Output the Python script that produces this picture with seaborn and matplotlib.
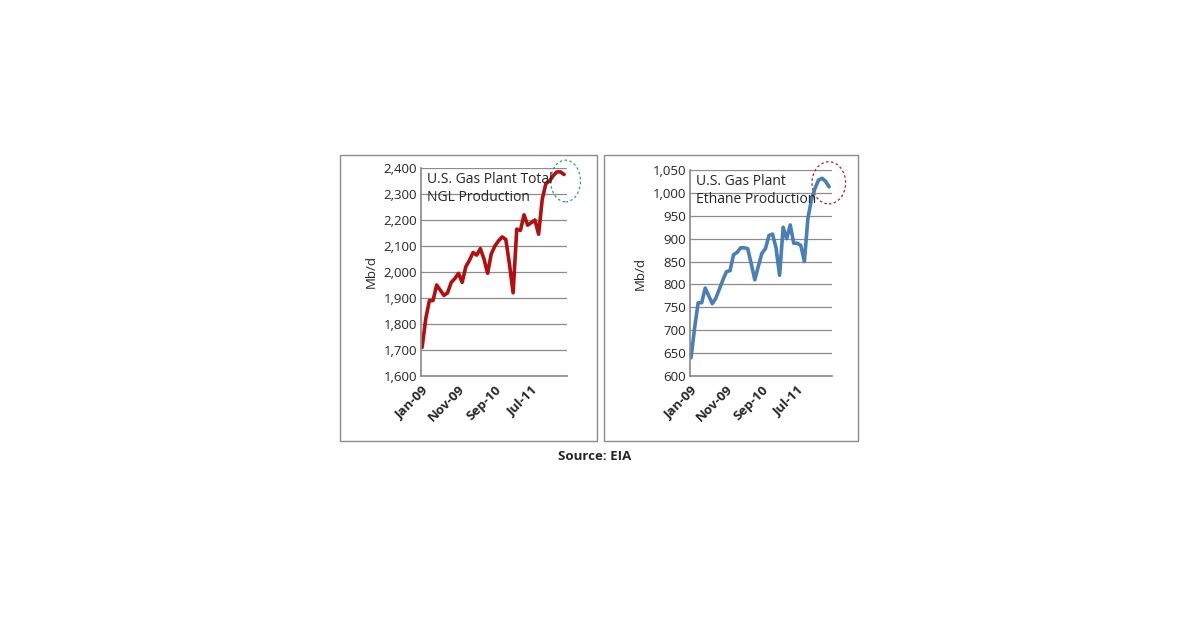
import matplotlib
matplotlib.use("Agg")
import matplotlib.pyplot as plt
import seaborn as sns
import pandas as pd
from matplotlib.patches import Rectangle, Ellipse

sns.set_theme(style="white")
plt.rcParams['font.family'] = ['Open Sans', 'DejaVu Sans']

months = pd.date_range("2009-01-01", periods=40, freq="MS")
ngl = [1710, 1820, 1890, 1890, 1950, 1930, 1910, 1920, 1960, 1975,
       1995, 1960, 2020, 2045, 2075, 2065, 2090, 2050, 1995, 2070,
       2100, 2120, 2135, 2125, 2030, 1920, 2165, 2160, 2220, 2180,
       2190, 2200, 2145, 2280, 2340, 2350, 2370, 2385, 2385, 2375]
ethane = [640, 705, 760, 760, 792, 775, 758, 770, 790, 810,
          828, 830, 865, 870, 880, 880, 878, 845, 810, 840,
          868, 878, 907, 910, 880, 820, 925, 900, 930, 890,
          890, 885, 850, 945, 985, 1010, 1028, 1032, 1025, 1013]
tick_idx = [0, 10, 20, 30]
tick_labels = ["Jan-09", "Nov-09", "Sep-10", "Jul-11"]

df = pd.DataFrame({"i": range(40), "ngl": ngl, "ethane": ethane})

fig = plt.figure(figsize=(12, 6.3), dpi=100)
W, H = 1200, 630
def fr(x0, y0, x1, y1):
    return [x0 / W, 1 - y1 / H, (x1 - x0) / W, (y1 - y0) / H]

for (x0, y0, x1, y1) in [(340, 155, 597, 441), (604, 155, 858, 441)]:
    fig.patches.append(Rectangle((x0 / W, 1 - y1 / H), (x1 - x0) / W, (y1 - y0) / H,
                                 transform=fig.transFigure, fill=False,
                                 edgecolor="#8c8c8c", linewidth=1))

def panel(rect, col, color, ylim, step, title, ell, ecolor):
    ax = fig.add_axes(fr(*rect))
    sns.lineplot(data=df, x="i", y=col, ax=ax, color=color, linewidth=2.6)
    ax.set_xlim(-0.3, 39.8)
    ax.set_ylim(*ylim)
    ax.set_yticks(range(ylim[0], ylim[1] + 1, step))
    ax.set_yticklabels([f"{v:,}" for v in range(ylim[0], ylim[1] + 1, step)], fontsize=9.5)
    ax.yaxis.grid(True, color="#8c8c8c", linewidth=0.9)
    ax.set_axisbelow(True)
    ax.set_xticks(tick_idx)
    ax.set_xticklabels(tick_labels, rotation=45, ha="right", rotation_mode="anchor",
                       fontsize=9.5, fontweight="bold")
    ax.tick_params(axis="x", length=3, color="#8c8c8c", pad=2)
    ax.tick_params(axis="y", length=0, pad=3)
    for s in ["top", "right"]:
        ax.spines[s].set_visible(False)
    for s in ["left", "bottom"]:
        ax.spines[s].set_color("#8c8c8c")
    ax.set_xlabel("")
    ax.set_ylabel("Mb/d", fontsize=9.5)
    ax.text(0.04, 0.98, title, transform=ax.transAxes, va="top", ha="left",
            fontsize=10, linespacing=1.25, fontweight="medium")
    ax.add_patch(Ellipse(ell[0], ell[1], ell[2], transform=ax.transData, fill=False,
                         edgecolor=ecolor, linestyle=(0, (2, 2)), linewidth=0.9,
                         clip_on=False))
    return ax

panel((421, 168, 567, 376), "ngl", "#b01010", (1600, 2400), 100,
      "U.S. Gas Plant Total\nNGL Production",
      ((39.4, 2350), 8.2, 160), "#2aa36a")
panel((690, 170, 832, 376), "ethane", "#4a7fb5", (600, 1050), 50,
      "U.S. Gas Plant\nEthane Production",
      ((38.9, 1022), 9.5, 92), "#b02020")

fig.text(595 / W, 1 - 457 / H, "Source: EIA", ha="center", va="center",
         fontsize=9.5, fontweight="bold")

fig.savefig("out.png", dpi=100, facecolor="white")
